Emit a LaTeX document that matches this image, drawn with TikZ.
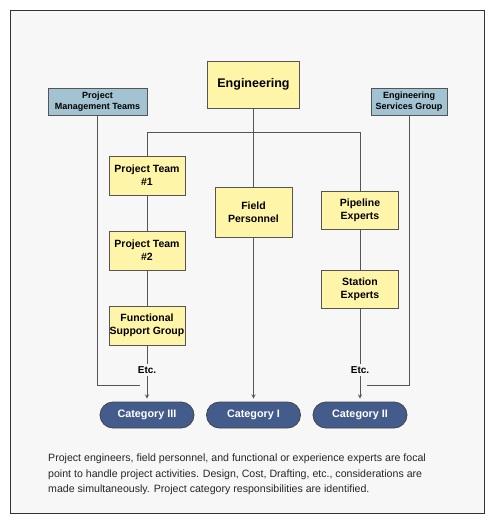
\documentclass[tikz,border=0pt]{standalone}
\usepackage{fontspec}
\setmainfont{Liberation Sans}
\usetikzlibrary{shapes.misc}

\definecolor{unitfill}{HTML}{FFF5A8}
\definecolor{groupfill}{HTML}{A3C3D2}
\definecolor{catfill}{HTML}{435C8C}
\definecolor{linegray}{HTML}{555555}

\tikzstyle{unit}=[draw=linegray, fill=unitfill, line width=0.9pt, align=center, inner sep=0pt, font=\bfseries\fontsize{10.5}{13}\selectfont]
\tikzstyle{group}=[draw=linegray, fill=groupfill, line width=0.9pt, align=center, inner sep=0pt, font=\bfseries\fontsize{9}{10.5}\selectfont]
\tikzstyle{category}=[rounded rectangle, draw=linegray!80!black, fill=catfill, text=white, line width=0.8pt, minimum width=94pt, minimum height=26pt, inner sep=0pt, font=\bfseries\fontsize{10.8}{12}\selectfont]
\tikzstyle{link}=[draw=linegray, line width=0.9pt]

\begin{document}
\begin{tikzpicture}[x=1pt, y=-1pt, >=stealth]
\useasboundingbox (0,0) rectangle (500,525);
\draw[draw=black!80, fill=black!3, line width=0.9pt] (10,10) rectangle (484,513);

\node [unit, minimum width=92pt, minimum height=47pt, font=\bfseries\fontsize{12.5}{14}\selectfont] (eng) at (253.5,84.5) {Engineering};
\node [group, minimum width=99pt, minimum height=27pt] (pmt) at (97.5,101.5) {Project\\Management Teams};
\node [group, minimum width=76pt, minimum height=27pt] (esg) at (409,101.5) {Engineering\\Services Group};

\node [unit, minimum width=76pt, minimum height=39pt] (pt1) at (147,175.5) {Project Team\\\#1};
\node [unit, minimum width=76pt, minimum height=39pt] (pt2) at (147,250.5) {Project Team\\\#2};
\node [unit, minimum width=76pt, minimum height=39pt] (fsg) at (147,325.5) {Functional\\Support Group};
\node [unit, minimum width=77pt, minimum height=50pt] (field) at (253.5,212) {Field\\Personnel};
\node [unit, minimum width=77pt, minimum height=38pt] (pipe) at (360,210) {Pipeline\\Experts};
\node [unit, minimum width=77pt, minimum height=38pt] (station) at (360,289) {Station\\Experts};

\node [font=\bfseries\fontsize{10}{11}\selectfont, inner sep=2pt] (etcl) at (147,370) {Etc.};
\node [font=\bfseries\fontsize{10}{11}\selectfont, inner sep=2pt] (etcr) at (360,370) {Etc.};

\node [category] (cat3) at (147,415) {Category III};
\node [category] (cat1) at (253.5,415) {Category I};
\node [category] (cat2) at (360,415) {Category II};

% bus below engineering
\coordinate (busl) at (147,132);
\coordinate (busm) at (253.5,132);
\coordinate (busr) at (360,132);
\draw [link] (eng.south) -- (busm);
\draw [link] (pt1.north) -- (busl) -- (busr) -- (pipe.north);
\draw [link] (busm) -- (field.north);

% columns
\draw [link] (pt1) -- (pt2);
\draw [link] (pt2) -- (fsg);
\draw [link] (fsg) -- (etcl);
\draw [link, ->, shorten >=3pt] (etcl) -- (cat3);
\draw [link, ->, shorten >=3pt] (field) -- (cat1);
\draw [link] (pipe) -- (station);
\draw [link] (station) -- (etcr);
\draw [link, ->, shorten >=3pt] (etcr) -- (cat2);

% side groups
\coordinate (pmtend) at (140,385);
\coordinate (esgend) at (367,385);
\draw [link] (pmt.south) |- (pmtend);
\draw [link] (esg.south) |- (esgend);

\node [anchor=north west, align=left, inner sep=0pt, text=black!85, font=\fontsize{10.6}{15.5}\selectfont] (caption) at (48,454) {Project engineers, field personnel, and functional or experience experts are focal\\point to handle project activities. Design, Cost, Drafting, etc., considerations are\\made simultaneously. Project category responsibilities are identified.};
\end{tikzpicture}
\end{document}
